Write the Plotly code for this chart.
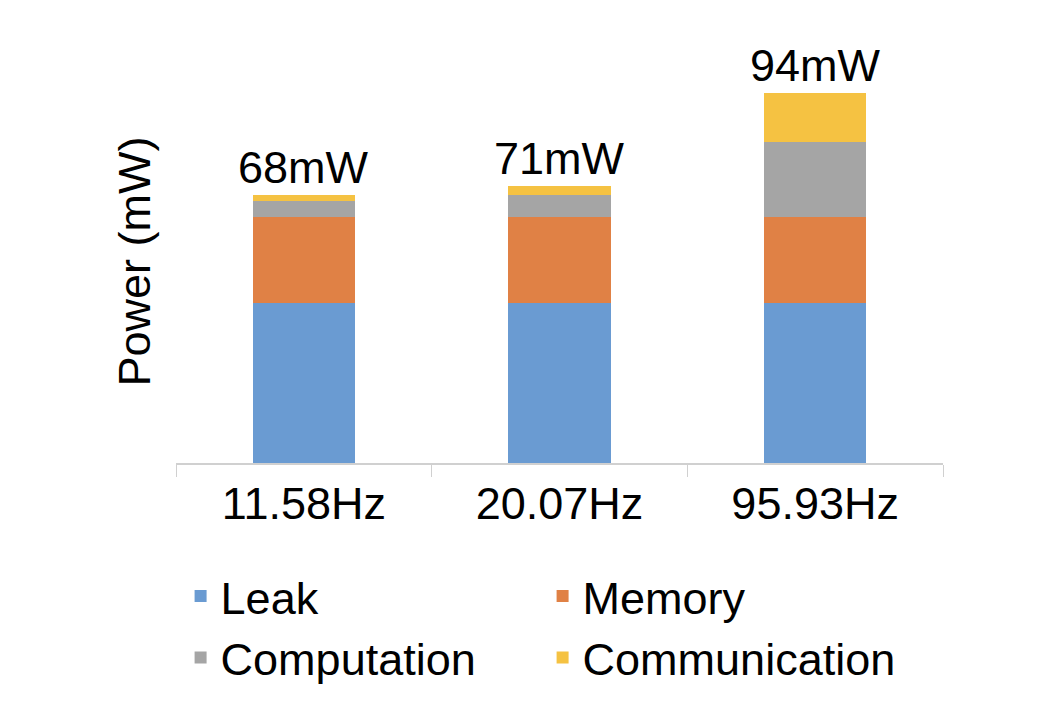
import plotly.graph_objects as go

categories = ["11.58Hz", "20.07Hz", "95.93Hz"]
leak = [40.6, 40.6, 40.6]
memory = [21.8, 21.8, 21.8]
computation = [4.1, 5.8, 19.1]
communication = [1.5, 2.3, 12.4]
totals = [68, 71, 94]
series = [("Leak", leak, "#6a9bd2"), ("Memory", memory, "#e08145"),
          ("Computation", computation, "#a5a5a5"), ("Communication", communication, "#f5c242")]

x = list(range(len(categories)))
fig = go.Figure()
for name, vals, col in series:
    fig.add_trace(go.Bar(x=x, y=vals, name=name, marker_color=col, width=0.4, marker_line_width=0))

for i, t in enumerate(totals):
    s = leak[i] + memory[i] + computation[i] + communication[i]
    fig.add_annotation(x=i, y=s, text=f"{t}mW", showarrow=False, yanchor="bottom", yshift=0,
                       font=dict(size=45, color="black"))

fig.update_layout(
    barmode="stack", width=1046, height=722, plot_bgcolor="white", paper_bgcolor="white",
    font=dict(family="Liberation Sans, Arial", size=45, color="black"),
    margin=dict(l=168, r=111, t=52, b=267),
    showlegend=True,
    legend=dict(orientation="h", xref="container", yref="container", x=0.165, y=0.235,
                xanchor="left", yanchor="top", entrywidth=317, traceorder="normal",
                font=dict(size=45), itemwidth=30, tracegroupgap=0),
    xaxis=dict(tickvals=x, ticktext=categories, range=[-0.5, 2.5], showline=True,
               linecolor="#d0d0d0", linewidth=1.5, ticks="", showgrid=False,
               minor=dict(tickvals=[-0.5, 0.5, 1.5, 2.5], ticks="outside", ticklen=12,
                          tickcolor="#d0d0d0", showgrid=False)),
    yaxis=dict(range=[0, 102.4], showticklabels=False, showgrid=False, zeroline=False,
               title=dict(text="Power (mW)", font=dict(size=45), standoff=10)),
)
fig.write_html("out.html")
